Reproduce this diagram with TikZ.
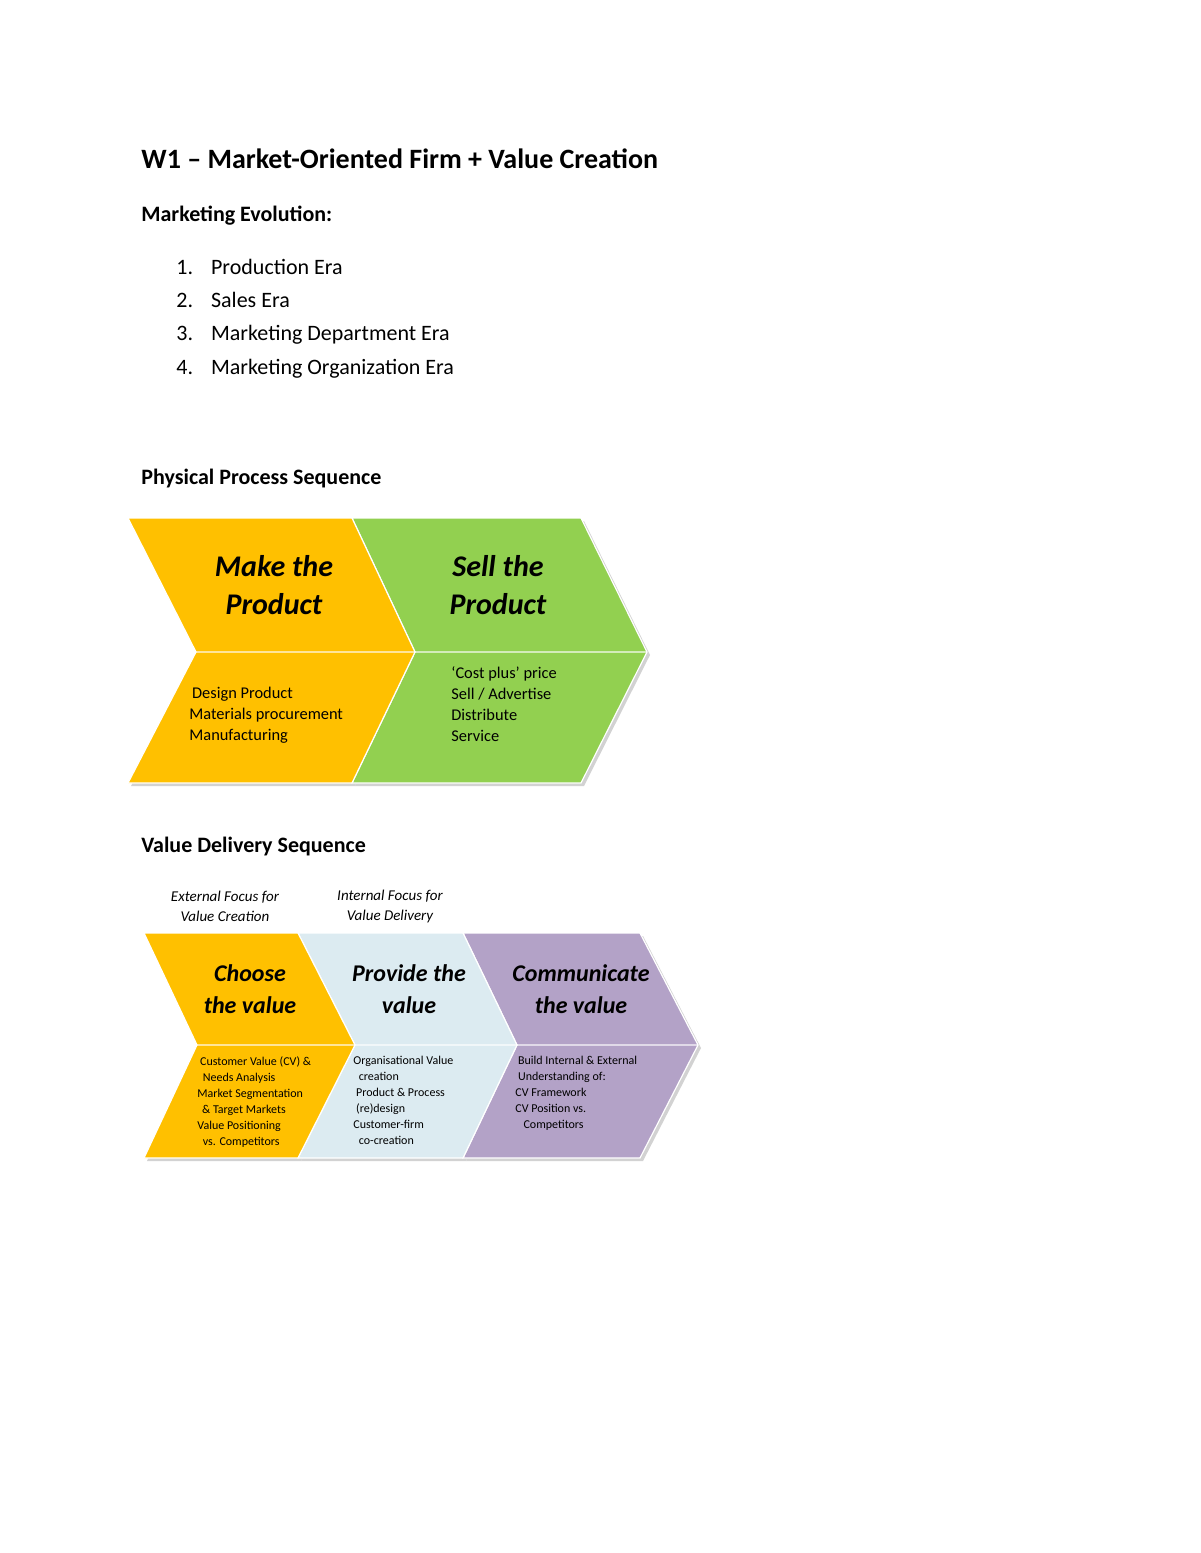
\documentclass[tikz,border=0pt]{standalone}
\usepackage{fontspec}
\setmainfont{Carlito}
\begin{document}
\begin{tikzpicture}[x=0.5pt,y=-0.5pt,
  head/.style={anchor=base west,inner sep=0pt,font=\bfseries\fontsize{11}{13}\selectfont},
  item/.style={anchor=base west,inner sep=0pt,font=\fontsize{11}{13}\selectfont},
  big/.style={align=center,font=\bfseries\itshape\fontsize{15}{19}\selectfont},
  mid/.style={align=center,font=\bfseries\itshape\fontsize{12}{16}\selectfont},
  txt/.style={align=left,anchor=north west,inner sep=0pt,font=\fontsize{8.2}{10.5}\selectfont},
  sml/.style={align=left,anchor=north west,inner sep=0pt,font=\fontsize{6}{8}\selectfont},
  lab/.style={align=center,font=\itshape\fontsize{7.5}{10}\selectfont},
  chev/.style={draw=white,line width=0.6pt}]
\useasboundingbox (0,0) rectangle (1200,1553);
\fill[white] (0,0) rectangle (1200,1553);
\definecolor{cy}{HTML}{FFC000}\definecolor{cg}{HTML}{92D050}
\definecolor{cb}{HTML}{DCEBF1}\definecolor{cp}{HTML}{B3A2C7}
\node[anchor=base west,inner sep=0pt,font=\bfseries\fontsize{14}{17}\selectfont] (title) at (141,168) {W1 -- Market-Oriented Firm + Value Creation};
\node[head] (h1) at (141,221) {Marketing Evolution:};
\node[item] (l1) at (176,274) {1.\hspace{9pt}Production Era};
\node[item] (l2) at (176,307) {2.\hspace{9pt}Sales Era};
\node[item] (l3) at (176,340) {3.\hspace{9pt}Marketing Department Era};
\node[item] (l4) at (176,374) {4.\hspace{9pt}Marketing Organization Era};
\node[head] (h2) at (141,484) {Physical Process Sequence};
\node[head] (h3) at (141,852) {Value Delivery Sequence};
% chart 1
\fill[gray!35] (131,521)--(355,521)--(418,655)--(355,786)--(131,786)--(199,655)--cycle;
\fill[gray!35] (355,521)--(584,521)--(650,655)--(584,786)--(355,786)--(418,655)--cycle;
\filldraw[chev,fill=cg] (352,518)--(581,518)--(647,652)--(581,783)--(352,783)--(415,652)--cycle;
\filldraw[chev,fill=cy] (128,518)--(352,518)--(415,652)--(352,783)--(128,783)--(196,652)--cycle;
\draw[white,opacity=0.6,line width=1pt] (196,652)--(415,652)--(647,652);
\node[big] (make) at (274,585) {Make the\\Product};
\node[big] (sell) at (498,585) {Sell the\\Product};
\node[txt] (mk) at (189,687) {\,Design Product\\Materials procurement\\Manufacturing};
\node[txt] (sl) at (451,666) {`Cost plus' price\\Sell / Advertise\\Distribute\\Service};
% chart 2
\node[lab] (e) at (225,906) {External Focus for\\Value Creation};
\node[lab] (i) at (390,906) {Internal Focus for\\Value Delivery};
\fill[gray!35] (147,936)--(301,936)--(358,1048)--(301,1161)--(147,1161)--(200,1048)--cycle;
\fill[gray!35] (301,936)--(466,936)--(520,1048)--(466,1161)--(301,1161)--(358,1048)--cycle;
\fill[gray!35] (466,936)--(643,936)--(701,1048)--(643,1161)--(466,1161)--(520,1048)--cycle;
\filldraw[chev,fill=cp] (463,933)--(640,933)--(698,1045)--(640,1158)--(463,1158)--(517,1045)--cycle;
\filldraw[chev,fill=cb] (298,933)--(463,933)--(517,1045)--(463,1158)--(298,1158)--(355,1045)--cycle;
\filldraw[chev,fill=cy] (144,933)--(298,933)--(355,1045)--(298,1158)--(144,1158)--(197,1045)--cycle;
\draw[white,opacity=0.6,line width=1pt] (197,1045)--(355,1045)--(517,1045)--(698,1045);
\node[mid] (ch) at (250,989) {Choose\\the value};
\node[mid] (pr) at (409,989) {Provide the\\value};
\node[mid] (co) at (581,989) {Communicate\\the value};
\node[sml] (t1) at (197,1056) {\ Customer Value (CV) \&\\\ \ Needs Analysis\\Market Segmentation\\\ \,\& Target Markets\\Value Positioning\\\ \ vs. Competitors};
\node[sml] (t2) at (353,1056) {Organisational Value\\\ \ creation\\\ Product \& Process\\\ (re)design\\Customer-firm\\\ \ co-creation};
\node[sml] (t3) at (515,1056) {\ Build Internal \& External\\\ Understanding of:\\CV Framework\\CV Position vs.\\\ \ \ Competitors};
\end{tikzpicture}
\end{document}
